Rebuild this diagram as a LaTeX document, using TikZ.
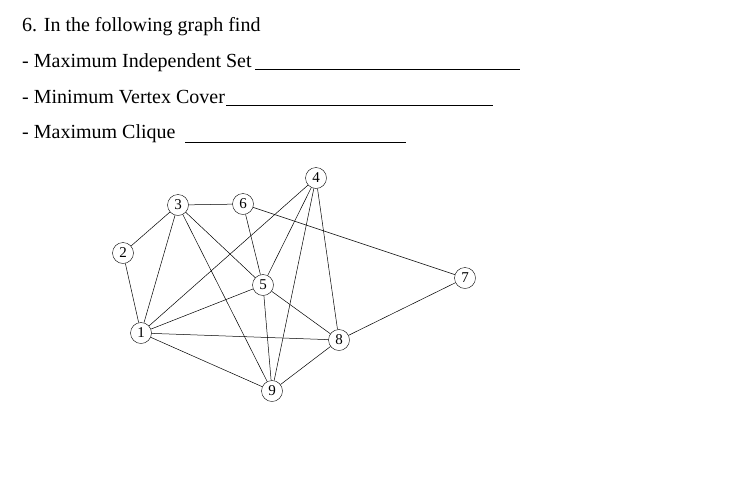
\documentclass[tikz,border=0pt]{standalone}
\usepackage{fontspec}
\setmainfont{Liberation Serif}
\begin{document}
\begin{tikzpicture}[x=1pt,y=-1pt,
  v/.style={circle,draw,inner sep=0pt,minimum size=21pt,font=\fontsize{15}{15}\selectfont,fill=white},
  t/.style={anchor=base west,inner sep=0pt,font=\fontsize{20}{20}\selectfont},
  e/.style={line width=0.5pt}]
\useasboundingbox (0,0) rectangle (735,501);
\node[t] (l1) at (22,31) {6. In the following graph find};
\node[t] (l2) at (22,67) {- Maximum Independent Set};
\node[t] (l3) at (22,103) {- Minimum Vertex Cover};
\node[t] (l4) at (22,138) {- Maximum Clique};
\coordinate (a1) at (255,69); \coordinate (b1) at (520,69);
\coordinate (a2) at (226,105); \coordinate (b2) at (493,105);
\coordinate (a3) at (185,142); \coordinate (b3) at (406,142);
\draw[e] (a1)--(b1); \draw[e] (a2)--(b2); \draw[e] (a3)--(b3);
\node[v] (n1) at (141,333) {1};
\node[v] (n2) at (123,253) {2};
\node[v] (n3) at (178,205) {3};
\node[v] (n4) at (316,178) {4};
\node[v] (n5) at (263,285) {5};
\node[v] (n6) at (243,204) {6};
\node[v] (n7) at (465,278) {7};
\node[v] (n8) at (339,340) {8};
\node[v] (n9) at (272,391) {9};
\foreach \a/\b in {2/3,2/1,3/1,3/6,3/9,3/5,5/9,5/8,6/5,4/5,4/1,4/9,4/8,6/7,7/8,1/5,1/8,1/9,9/8}
  \draw[e] (n\a)--(n\b);
\end{tikzpicture}
\end{document}
